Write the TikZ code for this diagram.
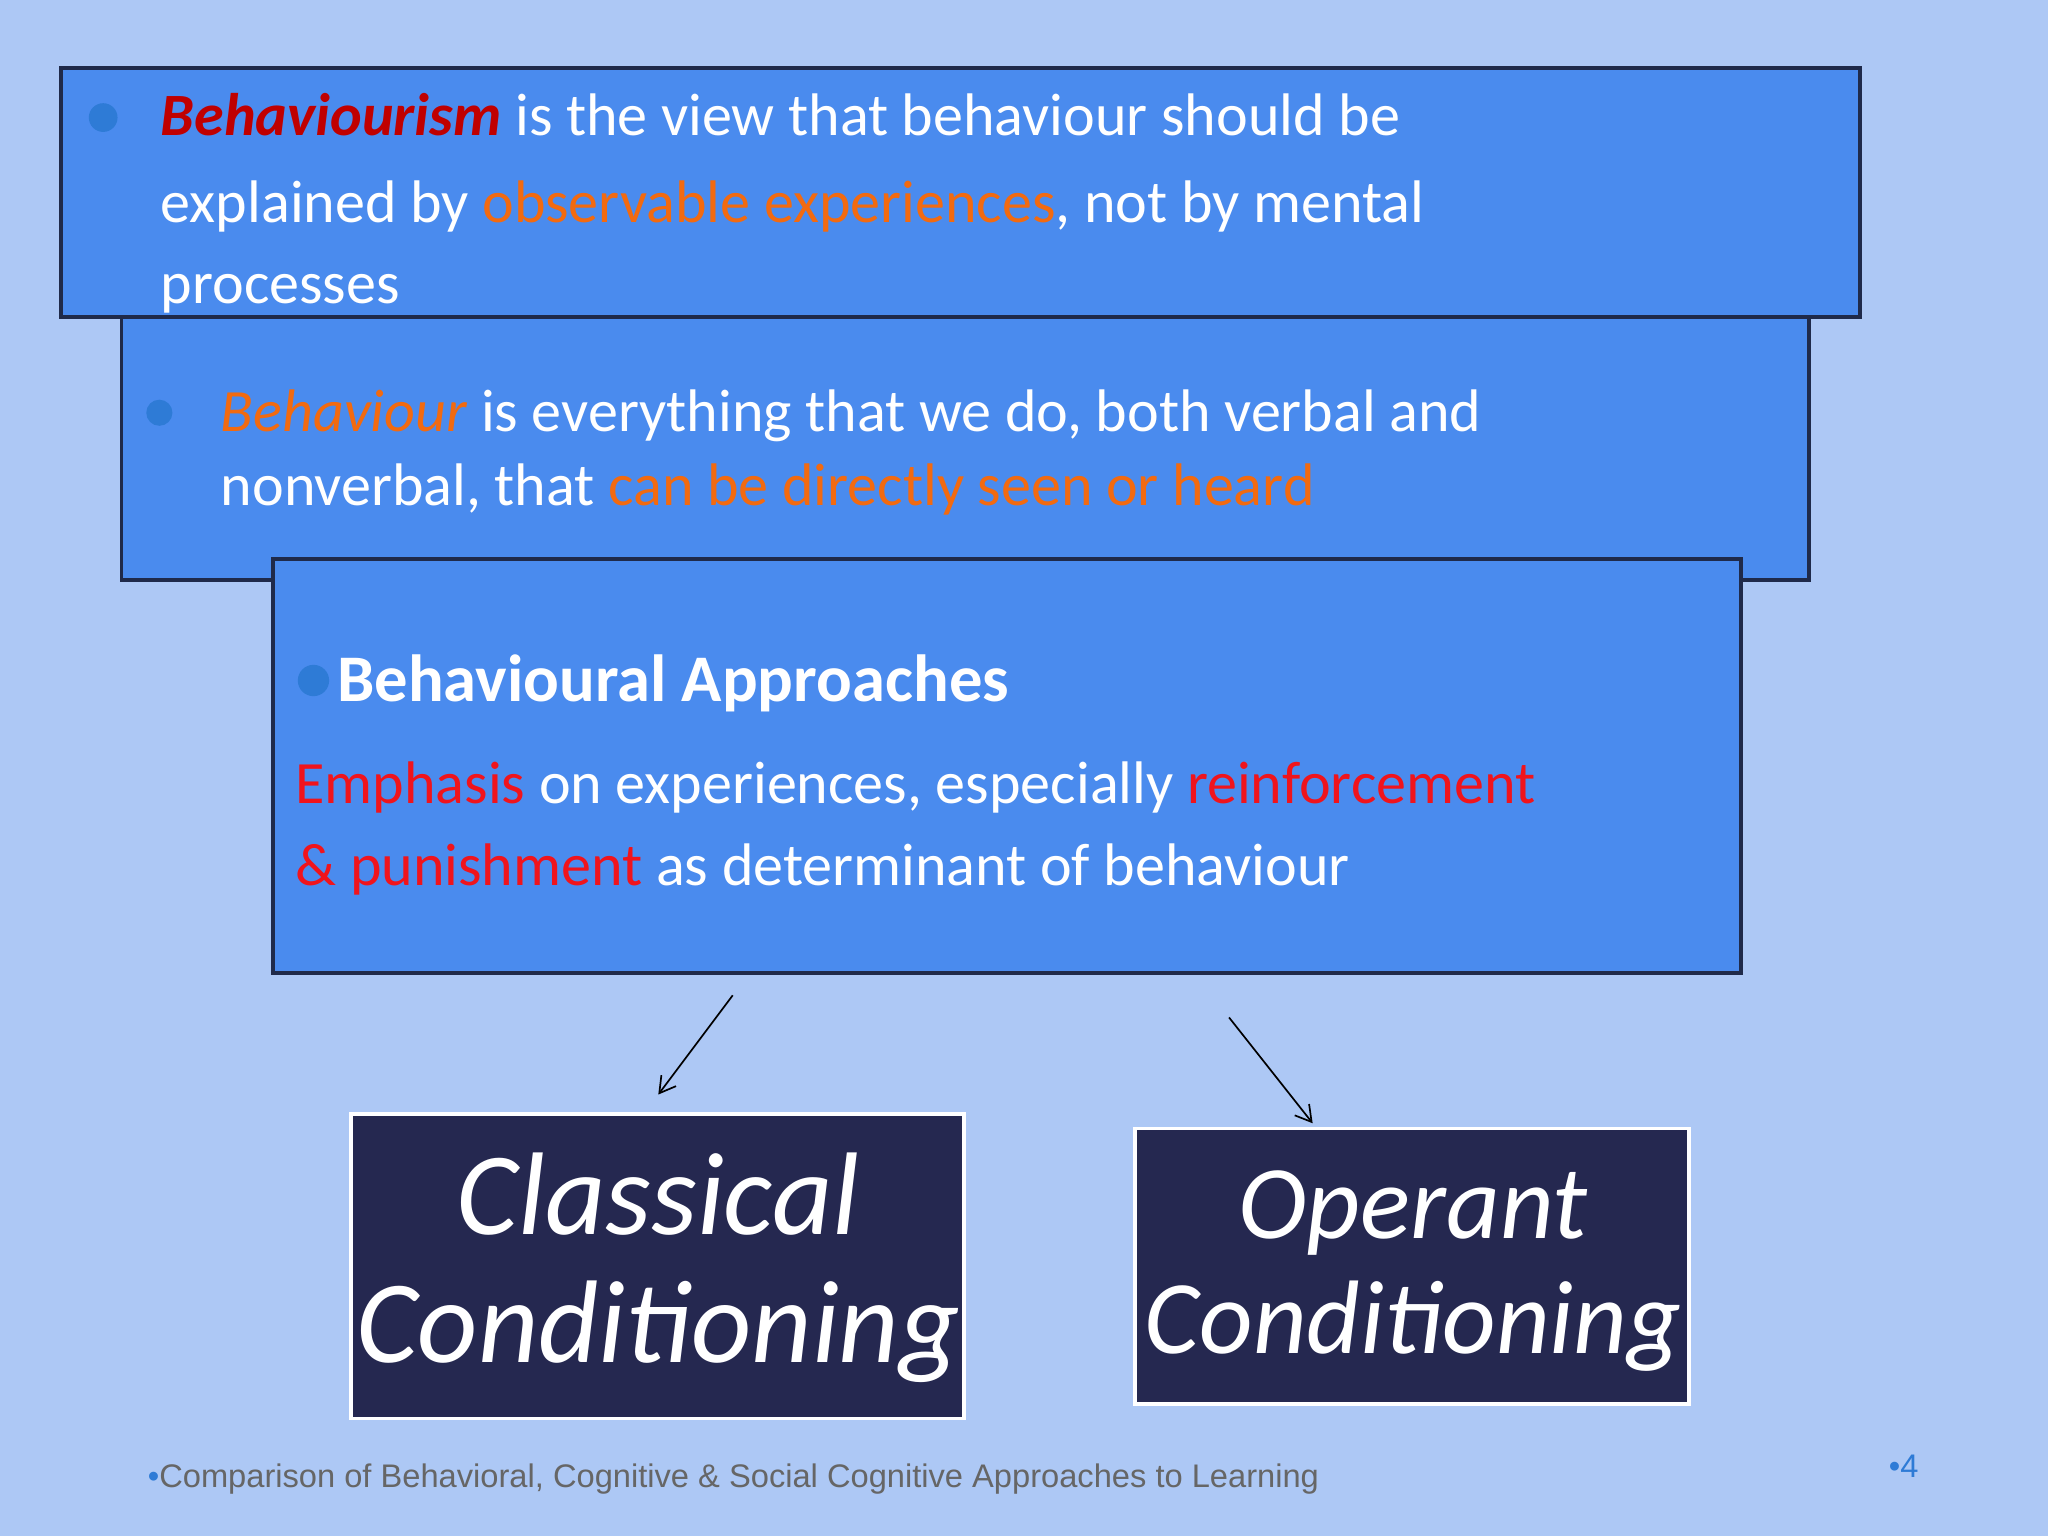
\documentclass[tikz,border=0pt]{standalone}
\usepackage{fontspec}
\setmainfont{Carlito}
\newfontfamily\footfont{Liberation Sans}
\definecolor{bg}{HTML}{ADC8F5}
\definecolor{boxblue}{HTML}{4A8BEE}
\definecolor{boxedge}{HTML}{1F2A4A}
\definecolor{navy}{HTML}{252850}
\definecolor{dred}{HTML}{C00000}
\definecolor{orng}{HTML}{F26A10}
\definecolor{rred}{HTML}{F0141C}
\definecolor{dotc}{HTML}{2E7BD6}
\tikzset{
  bluebox/.style={draw=boxedge,fill=boxblue,line width=3pt},
  darkbox/.style={draw=white,fill=navy,line width=3pt},
  txt/.style={anchor=base west,inner sep=0pt,text=white},
  dotb/.style={circle,fill=dotc,inner sep=0pt,minimum size=22pt},
  arr/.style={-{Straight Barb[length=12pt,width=14pt]},line width=1.3pt}
}
\usetikzlibrary{arrows.meta}
\begin{document}
\begin{tikzpicture}[x=1pt,y=-1pt]
\fill[bg] (0,0) rectangle (1568,1176);
\useasboundingbox (0,0) rectangle (1568,1176);
\draw[bluebox] (47,52) rectangle (1424,243);
\draw[bluebox] (93,243) rectangle (1385,444);
\draw[bluebox] (209,428) rectangle (1333,745);
\node[dotb] (d1) at (79,90) {};
\node[txt,font=\fontsize{46}{60}\selectfont] (l1) at (123,104) {\textcolor{dred}{\textbf{\textit{Behaviourism}}} is the view that behaviour should be};
\node[txt,font=\fontsize{46}{60}\selectfont] (l2) at (123,170) {explained by \textcolor{orng}{observable experiences}, not by mental};
\node[txt,font=\fontsize{46}{60}\selectfont] (l3) at (123,232) {processes};
\node[dotb,minimum size=20pt] (d2) at (122,316) {};
\node[txt,font=\fontsize{46}{60}\selectfont] (m1) at (169,330) {\textcolor{orng}{\textit{Behaviour}} is everything that we do, both verbal and};
\node[txt,font=\fontsize{46}{60}\selectfont] (m2) at (169,387) {nonverbal, that \textcolor{orng}{can be directly seen or heard}};
\node[dotb,minimum size=24pt] (d3) at (240,521) {};
\node[txt,font=\fontsize{51}{60}\selectfont\bfseries] (t3) at (258,537) {Behavioural Approaches};
\node[txt,font=\fontsize{46}{60}\selectfont] (n1) at (226,615) {\textcolor{rred}{Emphasis} on experiences, especially \textcolor{rred}{reinforcement}};
\node[txt,font=\fontsize{46}{60}\selectfont] (n2) at (226,678) {\textcolor{rred}{\& punishment} as determinant of behaviour};
\draw[darkbox] (269,853) rectangle (738,1086);
\draw[darkbox] (869,864) rectangle (1293,1075);
\node[anchor=base,inner sep=0pt,text=white,font=\fontsize{90}{90}\selectfont\itshape] (c1) at (504,945) {Classical};
\node[anchor=base,inner sep=0pt,text=white,font=\fontsize{90}{90}\selectfont\itshape] (c2) at (504,1043) {Conditioning};
\node[anchor=base,inner sep=0pt,text=white,font=\fontsize{80}{80}\selectfont\itshape] (o1) at (1082,948) {Operant};
\node[anchor=base,inner sep=0pt,text=white,font=\fontsize{80}{80}\selectfont\itshape] (o2) at (1082,1036) {Conditioning};
\coordinate (a1s) at (561,762); \coordinate (a1e) at (504,838);
\coordinate (a2s) at (941,779); \coordinate (a2e) at (1005,860);
\draw[arr] (a1s) -- (a1e);
\draw[arr] (a2s) -- (a2e);
\node[anchor=base west,inner sep=0pt,text=black!60,font=\footfont\fontsize{25}{25}\selectfont] (f) at (113,1139) {\textcolor{dotc}{\textbullet}Comparison of Behavioral, Cognitive \& Social Cognitive Approaches to Learning};
\node[anchor=base west,inner sep=0pt,text=dotc,font=\footfont\fontsize{25}{25}\selectfont] (pg) at (1446,1131) {\textbullet 4};
\end{tikzpicture}
\end{document}
